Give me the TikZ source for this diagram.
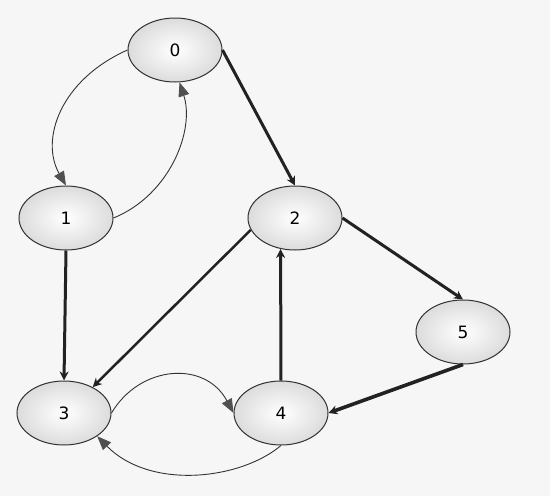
\documentclass[tikz,border=0pt]{standalone}
\usepackage{fontspec}
\setmainfont{DejaVu Sans}
\usetikzlibrary{shapes.geometric,arrows.meta}
\definecolor{bg}{HTML}{F6F6F6}
\definecolor{edge}{HTML}{222222}
\definecolor{thinline}{HTML}{333333}
\definecolor{headgrey}{HTML}{505050}
\definecolor{nodeout}{HTML}{DCDCDC}
\tikzset{
  vertex/.style={ellipse, draw=thinline, line width=1pt, minimum width=94pt, minimum height=64pt,
    inner sep=0pt, shading=radial, inner color=white, outer color=nodeout, font=\fontsize{17}{19}\selectfont},
  heavy/.style={draw=edge, line width=3pt, -{Stealth[length=9pt,width=9pt]}},
  light/.style={draw=thinline, line width=0.9pt, -{Triangle[length=14pt,width=11pt,color=headgrey]}},
}
\begin{document}
\begin{tikzpicture}[x=1pt,y=-1pt]
\fill[bg] (0,0) rectangle (550,496);
\useasboundingbox (0,0) rectangle (550,496);
\node[vertex] (n0) at (175,50) {0};
\node[vertex] (n1) at (66,218) {1};
\node[vertex] (n2) at (295,218) {2};
\node[vertex] (n3) at (64,413) {3};
\node[vertex] (n4) at (281,413) {4};
\node[vertex] (n5) at (463,332) {5};
% thick edges
\draw[heavy] (n0.east) -- (n2.north);
\draw[heavy] (n1.south) -- (n3.north);
\draw[heavy, line width=2.5pt] (n2.195) -- (n3.42);
\draw[heavy] (n2.east) -- (n5.north);
\draw[heavy] (n4.north) -- (n2.-115);
\draw[heavy, line width=3.6pt] (n5.south) -- (n4.east);
% thin curved edges
\draw[light] (n0.west) .. controls (60,80) and (40,140) .. (n1.north);
\draw[light] (n1.east) .. controls (170,195) and (195,130) .. (n0.-82);
\draw[light] (n3.east) .. controls (140,365) and (205,360) .. (n4.west);
\draw[light] (n4.south) .. controls (240,480) and (150,490) .. (n3.-35);
\end{tikzpicture}
\end{document}
